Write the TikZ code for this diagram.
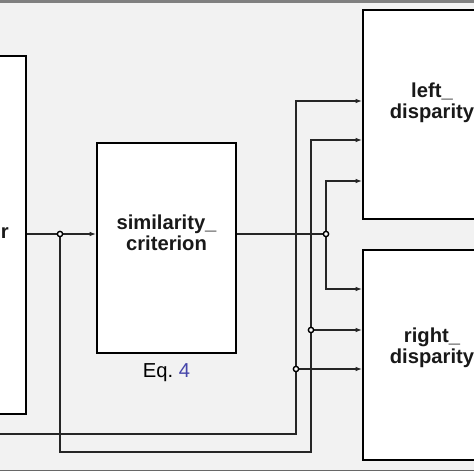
\documentclass[tikz,border=0pt]{standalone}
\usepackage{fontspec}
\setmainfont{Liberation Sans}
\definecolor{PanelGray}{RGB}{242,242,242}
\definecolor{FrameGray}{RGB}{128,128,128}
\definecolor{RefBlue}{RGB}{70,70,170}
\usetikzlibrary{arrows.meta,positioning,calc}

\begin{document}
\begin{tikzpicture}[x=0.02cm, y=-0.02cm,
    block/.style={draw=black, fill=white, line width=1.1pt, inner sep=0pt},
    blocktxt/.style={font=\fontsize{11.5}{11.8}\selectfont\bfseries, align=center, inner sep=0pt, text=black!90},
    wire/.style={line width=0.8pt, black!85},
    feed/.style={wire, -{Latex[length=3.6pt,width=2.6pt]}},
    tap/.style={circle, draw=black, fill=white, line width=0.8pt, inner sep=0pt, minimum size=3pt}]
  % page and backdrop
  \useasboundingbox (0,0) rectangle (474,474);
  \clip (0,0) rectangle (474,474);
  \fill[PanelGray] (0,0) rectangle (474,470);
  \fill[FrameGray] (0,0) rectangle (474,2.5);
  \draw[FrameGray!80!black, line width=0.6pt] (0,470.5) -- (474,470.5);

  % blocks
  \node[block, minimum width=1.32cm, minimum height=7.16cm] (enc) at (-7,235) {};
  \node[block, minimum width=2.78cm, minimum height=4.2cm] (sim) at (166.5,248) {};
  \node[block, minimum width=2.76cm, minimum height=4.18cm] (left) at (432,114.5) {};
  \node[block, minimum width=2.76cm, minimum height=4.2cm] (right) at (432,355) {};

  \node[blocktxt, anchor=east] (enctxt) at (9,233) {r};
  \node[blocktxt] (simtxt) at (166.5,232.5) {similarity\_\\criterion};
  \node[blocktxt] (lefttxt) at (432,102.5) {left\_\\disparity};
  \node[blocktxt] (righttxt) at (432,347.5) {right\_\\disparity};
  \node[font=\fontsize{11.5}{12}\selectfont, inner sep=0pt, below=5.5pt of sim] (simeq) {Eq.~\textcolor{RefBlue}{4}};

  % junctions
  \coordinate (split) at (60,234);
  \coordinate (fork) at (326,234);
  \coordinate (src) at (0,434);
  \coordinate (busB) at (311,452);
  \coordinate (upA) at (296,101);
  \coordinate (upB) at (311,140);
  \coordinate (upC) at (326,181);
  \coordinate (downC) at (326,289);
  \coordinate (tapB) at (311,330);
  \coordinate (tapA) at (296,369);

  % wiring
  \draw[feed] (enc.east |- split) -- (sim.west |- split);
  \draw[feed] (src) -| (upA) -- (left.west |- upA);
  \draw[feed] (split) |- (busB) -- (upB) -- (left.west |- upB);
  \draw[feed] (sim.east |- fork) -- (fork) -- (upC) -- (left.west |- upC);
  \draw[feed] (fork) -- (downC) -- (right.west |- downC);
  \draw[feed] (tapB) -- (right.west |- tapB);
  \draw[feed] (tapA) -- (right.west |- tapA);

  \foreach \p in {split,fork,tapB,tapA}
    \node[tap] (dot-\p) at (\p) {};
\end{tikzpicture}
\end{document}
